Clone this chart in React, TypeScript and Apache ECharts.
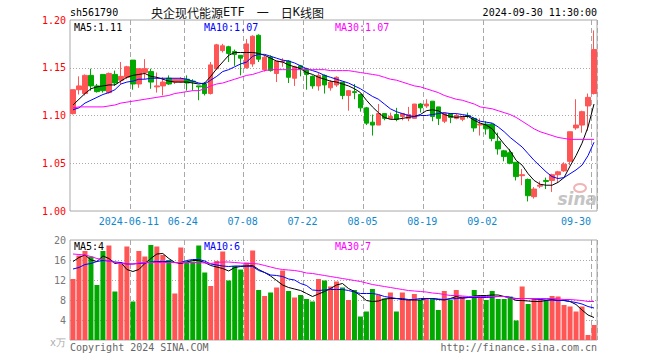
import React, { useEffect, useRef } from 'react';
import * as echarts from 'echarts';

const dates = [
  '2024-05-27','2024-05-28','2024-05-29','2024-05-30','2024-05-31',
  '2024-06-03','2024-06-04','2024-06-05','2024-06-06','2024-06-07',
  '2024-06-11','2024-06-12','2024-06-13','2024-06-14',
  '2024-06-17','2024-06-18','2024-06-19','2024-06-20','2024-06-21',
  '2024-06-24','2024-06-25','2024-06-26','2024-06-27','2024-06-28',
  '2024-07-01','2024-07-02','2024-07-03','2024-07-04','2024-07-05',
  '2024-07-08','2024-07-09','2024-07-10','2024-07-11','2024-07-12',
  '2024-07-15','2024-07-16','2024-07-17','2024-07-18','2024-07-19',
  '2024-07-22','2024-07-23','2024-07-24','2024-07-25','2024-07-26',
  '2024-07-29','2024-07-30','2024-07-31','2024-08-01','2024-08-02',
  '2024-08-05','2024-08-06','2024-08-07','2024-08-08','2024-08-09',
  '2024-08-12','2024-08-13','2024-08-14','2024-08-15','2024-08-16',
  '2024-08-19','2024-08-20','2024-08-21','2024-08-22','2024-08-23',
  '2024-08-26','2024-08-27','2024-08-28','2024-08-29','2024-08-30',
  '2024-09-02','2024-09-03','2024-09-04','2024-09-05','2024-09-06',
  '2024-09-09','2024-09-10','2024-09-11','2024-09-12','2024-09-13',
  '2024-09-18','2024-09-19','2024-09-20',
  '2024-09-23','2024-09-24','2024-09-25','2024-09-26','2024-09-27',
  '2024-09-30'
];

const opens = [
  1.102,1.127,1.123,1.142,1.131,1.143,1.124,1.143,1.137,1.140,
  1.158,1.133,1.145,1.146,1.130,1.131,1.139,1.135,1.135,1.138,
  1.136,1.131,1.133,1.123,1.149,1.168,1.172,1.167,1.163,1.150,
  1.154,1.184,1.148,1.161,1.144,1.156,1.157,1.139,1.152,1.149,
  1.141,1.131,1.142,1.129,1.132,1.135,1.121,1.125,1.122,1.108,
  1.093,1.090,1.102,1.097,1.101,1.099,1.097,1.097,1.112,1.110,
  1.115,1.109,1.094,1.102,1.097,1.096,1.100,1.097,1.090,1.091,
  1.091,1.073,1.063,1.061,1.051,1.037,1.033,1.015,1.026,1.032,
  1.032,1.038,1.042,1.052,1.087,1.090,1.110,1.123
];
const closes = [
  1.127,1.131,1.142,1.131,1.125,1.126,1.144,1.134,1.141,1.151,
  1.133,1.149,1.149,1.135,1.131,1.135,1.133,1.138,1.138,1.134,
  1.135,1.130,1.123,1.153,1.174,1.173,1.165,1.164,1.160,1.175,
  1.183,1.159,1.161,1.147,1.157,1.157,1.140,1.151,1.149,1.143,
  1.131,1.142,1.132,1.135,1.140,1.121,1.126,1.124,1.108,1.092,
  1.090,1.102,1.097,1.099,1.096,1.102,1.101,1.112,1.108,1.112,
  1.099,1.097,1.102,1.098,1.100,1.098,1.099,1.087,1.091,1.086,
  1.076,1.065,1.057,1.050,1.036,1.038,1.016,1.023,1.027,1.031,
  1.038,1.041,1.049,1.083,1.090,1.104,1.119,1.169
];
const lows = [
  1.101,1.122,1.121,1.126,1.124,1.124,1.123,1.131,1.133,1.138,
  1.127,1.129,1.138,1.128,1.124,1.121,1.132,1.133,1.134,1.126,
  1.126,1.116,1.121,1.122,1.148,1.166,1.156,1.152,1.142,1.149,
  1.151,1.156,1.146,1.146,1.135,1.151,1.134,1.131,1.141,1.127,
  1.128,1.126,1.123,1.126,1.130,1.117,1.105,1.117,1.104,1.090,
  1.079,1.090,1.095,1.096,1.094,1.095,1.094,1.097,1.103,1.108,
  1.094,1.090,1.092,1.092,1.096,1.094,1.097,1.083,1.079,1.080,
  1.073,1.059,1.052,1.049,1.032,1.027,1.010,1.013,1.024,1.023,
  1.020,1.030,1.041,1.048,1.085,1.082,1.084,1.122
];
const highs = [
  1.127,1.141,1.143,1.149,1.133,1.143,1.145,1.147,1.156,1.152,
  1.158,1.149,1.159,1.149,1.145,1.140,1.142,1.139,1.140,1.142,
  1.138,1.131,1.135,1.156,1.175,1.175,1.173,1.169,1.163,1.180,
  1.184,1.185,1.163,1.163,1.157,1.160,1.158,1.152,1.153,1.150,
  1.142,1.145,1.143,1.137,1.141,1.135,1.126,1.133,1.123,1.109,
  1.101,1.112,1.102,1.103,1.108,1.102,1.109,1.112,1.113,1.117,
  1.115,1.109,1.103,1.102,1.102,1.099,1.103,1.098,1.097,1.094,
  1.092,1.082,1.064,1.065,1.051,1.044,1.034,1.025,1.031,1.035,
  1.039,1.042,1.051,1.083,1.117,1.105,1.123,1.189
];

const ma5 = [
  1.111,1.117,1.123,1.128,1.130,1.131,1.132,1.132,1.136,1.140,
  1.142,1.143,1.144,1.141,1.140,1.138,1.136,1.135,1.135,1.135,
  1.134,1.133,1.134,1.141,1.149,1.156,1.163,1.166,1.166,1.166,
  1.166,1.165,1.163,1.160,1.157,1.156,1.153,1.151,1.149,1.145,
  1.143,1.140,1.138,1.136,1.135,1.133,1.131,1.128,1.124,1.116,
  1.109,1.103,1.098,1.096,1.096,1.097,1.098,1.099,1.101,1.105,
  1.106,1.105,1.101,1.099,1.098,1.099,1.099,1.095,1.092,1.090,
  1.086,1.078,1.070,1.063,1.053,1.048,1.039,1.032,1.028,1.027,
  1.027,1.030,1.035,1.047,1.058,1.071,1.088,1.112
];
const ma10 = [
  1.106,1.108,1.113,1.116,1.119,1.122,1.124,1.127,1.133,1.135,
  1.136,1.138,1.138,1.139,1.139,1.139,1.139,1.139,1.139,1.138,
  1.136,1.134,1.133,1.137,1.141,1.146,1.148,1.151,1.154,1.156,
  1.162,1.164,1.164,1.162,1.160,1.158,1.157,1.155,1.152,1.149,
  1.147,1.145,1.142,1.140,1.138,1.136,1.134,1.131,1.128,1.124,
  1.120,1.117,1.112,1.107,1.104,1.102,1.100,1.099,1.100,1.100,
  1.101,1.102,1.103,1.102,1.102,1.101,1.100,1.097,1.094,1.093,
  1.092,1.088,1.083,1.077,1.072,1.067,1.060,1.053,1.047,1.041,
  1.036,1.034,1.035,1.039,1.043,1.048,1.058,1.072
];
const ma30 = [
  1.108,1.109,1.109,1.109,1.109,1.109,1.110,1.111,1.113,1.114,
  1.115,1.116,1.117,1.118,1.119,1.120,1.121,1.123,1.124,1.125,
  1.126,1.126,1.128,1.131,1.133,1.134,1.136,1.138,1.140,1.142,
  1.143,1.145,1.147,1.148,1.148,1.148,1.148,1.148,1.148,1.148,
  1.148,1.148,1.148,1.147,1.147,1.147,1.147,1.146,1.145,1.144,
  1.143,1.142,1.140,1.138,1.137,1.135,1.133,1.131,1.130,1.128,
  1.126,1.124,1.121,1.119,1.117,1.116,1.114,1.112,1.109,1.108,
  1.107,1.105,1.103,1.101,1.098,1.094,1.090,1.086,1.083,1.081,
  1.079,1.077,1.076,1.075,1.075,1.075,1.075,1.075
];

const volumes = [
  12.2,16.9,17.8,16.7,11.0,17.8,18.9,9.7,15.3,18.7,
  7.7,17.8,16.7,19.0,18.7,17.0,16.0,9.3,18.5,15.7,
  15.7,18.9,13.5,10.8,15.8,17.7,11.9,14.8,14.1,15.5,
  17.9,10.0,8.8,9.5,10.5,13.9,9.8,8.5,9.0,8.2,
  7.7,12.2,11.9,10.7,11.7,10.5,8.0,10.0,4.7,5.7,
  10.2,9.0,8.3,9.5,5.7,9.5,8.0,9.2,8.0,8.3,
  8.3,6.0,9.8,8.0,10.0,8.7,8.0,10.0,8.9,8.0,
  9.8,8.2,8.2,8.7,3.9,10.7,7.2,8.3,8.2,8.0,
  8.8,8.7,7.0,6.7,5.7,6.7,1.0,3.0
];
const volMa5 = [
  15.7,16.5,17.0,16.0,15.7,16.8,16.3,15.3,15.5,14.1,
  13.7,14.1,15.3,16.3,17.2,17.3,16.3,15.5,15.3,15.6,
  15.9,15.9,15.5,14.9,14.6,14.3,13.8,14.5,14.7,14.8,
  14.9,14.1,13.5,12.8,11.9,11.0,10.5,10.2,9.9,9.3,
  8.7,9.2,9.7,10.3,11.0,11.3,10.3,9.7,8.9,7.9,
  7.7,7.8,8.2,8.3,8.3,8.1,8.0,8.0,8.0,8.3,
  8.3,8.1,8.0,8.3,8.7,8.4,8.5,8.8,8.9,8.9,
  9.0,9.0,8.7,8.5,7.9,7.9,7.8,7.7,7.7,7.9,
  8.1,7.9,7.9,7.7,7.1,6.0,5.0,4.5
];
const volMa10 = [
  14.2,14.5,15.1,15.3,15.7,15.9,15.8,15.6,15.5,15.2,
  15.2,15.3,15.4,15.6,15.7,15.7,15.7,15.5,15.5,15.9,
  16.1,16.1,15.8,15.2,15.0,14.8,14.7,14.8,14.8,14.8,
  14.7,13.9,13.5,13.0,12.9,12.7,12.2,12.0,11.3,10.9,
  10.0,9.9,10.0,10.1,10.1,10.1,9.9,9.6,9.3,9.3,
  9.3,9.1,8.7,8.5,8.3,8.3,8.1,8.1,8.3,8.3,
  8.3,8.2,8.1,8.2,8.3,8.4,8.5,8.5,8.5,8.5,
  8.6,8.7,8.7,8.5,8.3,8.3,8.3,8.2,8.1,8.0,
  8.0,7.9,7.9,7.7,7.5,7.2,6.7,6.4
];
const volMa30 = [
  17.2,17.1,17.0,16.7,16.3,16.1,15.8,15.5,15.3,15.2,
  15.2,15.4,15.5,15.5,15.5,15.5,15.5,15.5,15.5,15.5,
  15.5,15.5,15.4,15.3,15.5,15.6,15.6,15.5,15.4,15.3,
  15.3,15.2,14.9,14.6,14.3,14.1,14.0,13.9,13.7,13.4,
  13.3,13.1,12.9,12.7,12.5,12.3,12.1,11.9,11.7,11.4,
  11.1,10.9,10.7,10.5,10.3,10.1,9.9,9.8,9.7,9.6,
  9.4,9.3,9.1,8.9,8.9,8.8,8.7,8.7,8.7,8.7,
  8.7,8.7,8.7,8.4,8.2,8.3,8.3,8.3,8.3,8.3,
  8.3,8.2,8.1,8.1,8.0,7.9,7.7,7.7
];

const labelIdx = [10, 19, 29, 39, 49, 59, 69, 87];

const RED = '#ff5555';
const GREEN = '#00a800';
const MONO = '"DejaVu Sans Mono", "Liberation Mono", monospace';
const CJK = '"Noto Sans CJK SC", sans-serif';
const GRID_GREY = '#a8a8a8';

export default function App() {
  const ref = useRef<HTMLDivElement>(null);

  useEffect(() => {
    const chart = echarts.init(ref.current as HTMLDivElement, null, { renderer: 'svg' });
    const last = dates.length - 1;
    const f2 = (v: number) => (Math.floor(v * 100 + 1e-9) / 100).toFixed(2);
    const f0 = (v: number) => String(Math.floor(v));
    const showAt = (i: number) => labelIdx.indexOf(i) >= 0;

    const xLabelStyle = { color: '#1088cc', fontFamily: MONO, fontSize: 10 };

    const option: any = {
      animation: false,
      backgroundColor: '#ffffff',
      grid: [
        { left: 70, top: 20, width: 527, height: 191, show: true, borderColor: GRID_GREY, borderWidth: 1, backgroundColor: 'transparent' },
        { left: 70, top: 240, width: 527, height: 100, show: true, borderColor: GRID_GREY, borderWidth: 1, backgroundColor: 'transparent' },
      ],
      xAxis: [
        {
          type: 'category', gridIndex: 0, data: dates, boundaryGap: true,
          axisLine: { show: false }, axisTick: { show: false },
          axisLabel: {
            interval: (i: number) => showAt(i),
            margin: 5,
            formatter: (v: string, i: number) => {
              const t = i === 10 ? v : v.slice(5);
              return i === last ? `{e|${t}}` : `{n|${t}}`;
            },
            rich: {
              n: { ...xLabelStyle, padding: [0, 8, 0, 0] },
              e: { ...xLabelStyle, padding: [0, 36, 0, 0] },
            },
          },
          splitLine: { show: true, interval: (i: number) => showAt(i), lineStyle: { color: GRID_GREY, type: [5, 3], width: 1 } },
        },
        {
          type: 'category', gridIndex: 1, data: dates, boundaryGap: true,
          axisLine: { show: false }, axisTick: { show: false }, axisLabel: { show: false },
          splitLine: { show: true, interval: (i: number) => showAt(i), lineStyle: { color: GRID_GREY, type: [5, 3], width: 1 } },
        },
      ],
      yAxis: [
        {
          type: 'value', gridIndex: 0, min: 1.0, max: 1.2, interval: 0.05,
          axisLine: { show: false }, axisTick: { show: false },
          axisLabel: { color: '#ff0000', fontFamily: MONO, fontSize: 10, margin: 4, formatter: (v: number) => v.toFixed(2) },
          splitLine: { show: true, showMinLine: false, showMaxLine: false, lineStyle: { color: GRID_GREY, type: [1, 2], width: 1 } },
        },
        {
          type: 'value', gridIndex: 1, min: 0, max: 20, interval: 4,
          axisLine: { show: false }, axisTick: { show: false },
          axisLabel: {
            color: '#777', fontFamily: MONO, fontSize: 10, margin: 4,
            formatter: (v: number) => (v === 0 ? '{u|x万}' : String(v)),
            rich: { u: { color: '#aaa', fontFamily: MONO, fontSize: 10, padding: [4, 0, 0, 0] } },
          },
          splitLine: { show: true, showMinLine: false, showMaxLine: false, lineStyle: { color: GRID_GREY, type: [1, 2], width: 1 } },
        },
      ],
      series: [
        {
          type: 'candlestick', xAxisIndex: 0, yAxisIndex: 0, barWidth: 5,
          data: dates.map((_, i) => [opens[i], closes[i], lows[i], highs[i]]),
          itemStyle: { color: RED, color0: GREEN, borderColor: RED, borderColor0: GREEN, borderWidth: 1 },
        },
        { type: 'line', xAxisIndex: 0, yAxisIndex: 0, data: ma5, showSymbol: false, symbol: 'none', lineStyle: { color: '#000000', width: 1 } },
        { type: 'line', xAxisIndex: 0, yAxisIndex: 0, data: ma10, showSymbol: false, symbol: 'none', lineStyle: { color: '#0000ff', width: 1 } },
        { type: 'line', xAxisIndex: 0, yAxisIndex: 0, data: ma30, showSymbol: false, symbol: 'none', lineStyle: { color: '#ff00ff', width: 1 } },
        {
          type: 'bar', xAxisIndex: 1, yAxisIndex: 1, barWidth: 5,
          data: volumes.map((v, i) => ({ value: v, itemStyle: { color: closes[i] > opens[i] ? RED : GREEN } })),
        },
        { type: 'line', xAxisIndex: 1, yAxisIndex: 1, data: volMa5, showSymbol: false, symbol: 'none', lineStyle: { color: '#000000', width: 1 } },
        { type: 'line', xAxisIndex: 1, yAxisIndex: 1, data: volMa10, showSymbol: false, symbol: 'none', lineStyle: { color: '#0000ff', width: 1 } },
        { type: 'line', xAxisIndex: 1, yAxisIndex: 1, data: volMa30, showSymbol: false, symbol: 'none', lineStyle: { color: '#ff00ff', width: 1 } },
      ],
      graphic: [
        { type: 'text', x: 70, y: 12, style: { text: 'sh561790', fill: '#000', font: `10px ${MONO}`, textVerticalAlign: 'middle' } },
        {
          type: 'text', x: 151, y: 12,
          style: {
            text: '{c|央企现代能源}{m|ETF}{c|　一　日}{m|K}{c|线图}',
            textVerticalAlign: 'middle',
            rich: {
              c: { fill: '#111', font: `12px ${CJK}` },
              m: { fill: '#111', font: `12px ${MONO}` },
            },
          },
        },
        { type: 'text', x: 597, y: 12, style: { text: '2024-09-30 11:30:00', fill: '#000', font: `10px ${MONO}`, textAlign: 'right', textVerticalAlign: 'middle' } },
        { type: 'text', x: 74, y: 27, z: 10, style: { text: `MA5:${f2(ma5[last])}`, fill: '#000', font: `10px ${MONO}`, textVerticalAlign: 'middle' } },
        { type: 'text', x: 204, y: 27, z: 10, style: { text: `MA10:${f2(ma10[last])}`, fill: '#0000ff', font: `10px ${MONO}`, textVerticalAlign: 'middle' } },
        { type: 'text', x: 335, y: 27, z: 10, style: { text: `MA30:${f2(ma30[last])}`, fill: '#ff00ff', font: `10px ${MONO}`, textVerticalAlign: 'middle' } },
        { type: 'text', x: 74, y: 246, z: 10, style: { text: `MA5:${f0(volMa5[last])}`, fill: '#000', font: `10px ${MONO}`, textVerticalAlign: 'middle' } },
        { type: 'text', x: 204, y: 246, z: 10, style: { text: `MA10:${f0(volMa10[last])}`, fill: '#0000ff', font: `10px ${MONO}`, textVerticalAlign: 'middle' } },
        { type: 'text', x: 335, y: 246, z: 10, style: { text: `MA30:${f0(volMa30[last])}`, fill: '#ff00ff', font: `10px ${MONO}`, textVerticalAlign: 'middle' } },
        { type: 'text', x: 70, y: 347, style: { text: 'Copyright 2024 SINA.COM', fill: '#666', font: `10px ${MONO}`, textVerticalAlign: 'middle' } },
        { type: 'text', x: 597, y: 347, style: { text: 'http://finance.sina.com.cn', fill: '#666', font: `10px ${MONO}`, textAlign: 'right', textVerticalAlign: 'middle' } },
        { type: 'ellipse', shape: { cx: 580, cy: 188, rx: 6, ry: 4 }, style: { fill: 'none', stroke: '#f0b4b4', lineWidth: 2 } },
        { type: 'text', x: 597, y: 199, style: { text: 'sina', fill: '#c4c4c4', font: 'italic bold 17px "DejaVu Sans", sans-serif', textAlign: 'right', textVerticalAlign: 'middle' } },
      ],
    };

    chart.setOption(option);
    return () => chart.dispose();
  }, []);

  return <div ref={ref} style={{ position: 'absolute', left: 0, top: 0, width: 660, height: 360 }} />;
}
